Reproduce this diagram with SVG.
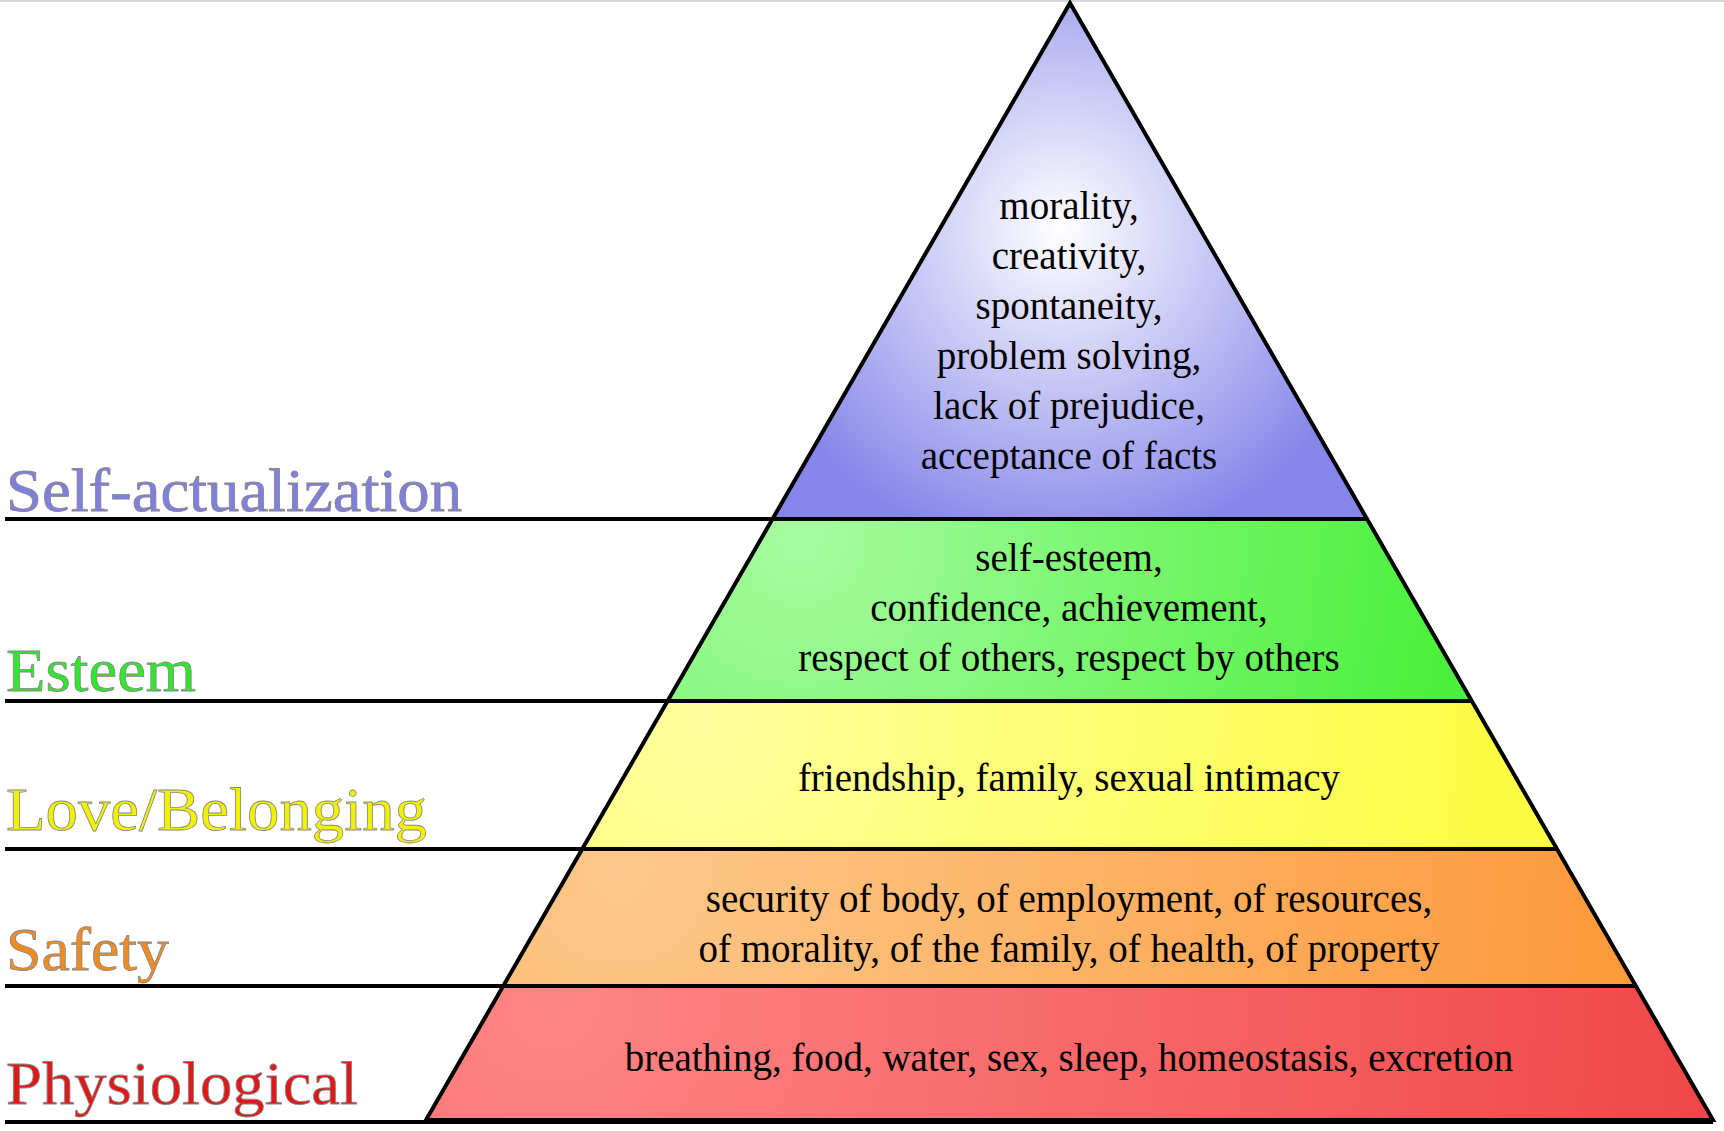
<svg xmlns="http://www.w3.org/2000/svg" width="1724" height="1131" viewBox="0 0 1724 1131">
<defs>
<radialGradient id="gB" cx="1060" cy="230" r="330" gradientUnits="userSpaceOnUse"><stop offset="0" stop-color="#ffffff"/><stop offset="1" stop-color="#8585ea"/></radialGradient>
<radialGradient id="gG" cx="800" cy="540" r="650" gradientUnits="userSpaceOnUse"><stop offset="0" stop-color="#a6fca0"/><stop offset="1" stop-color="#4cf03c"/></radialGradient>
<radialGradient id="gY" cx="700" cy="720" r="800" gradientUnits="userSpaceOnUse"><stop offset="0" stop-color="#ffff9e"/><stop offset="1" stop-color="#fcfc44"/></radialGradient>
<radialGradient id="gO" cx="620" cy="870" r="1000" gradientUnits="userSpaceOnUse"><stop offset="0" stop-color="#fdc88a"/><stop offset="1" stop-color="#fd9a3c"/></radialGradient>
<radialGradient id="gR" cx="550" cy="1000" r="1150" gradientUnits="userSpaceOnUse"><stop offset="0" stop-color="#fe8585"/><stop offset="1" stop-color="#f04848"/></radialGradient>
</defs>
<style>
.lvl{font-family:"Liberation Serif",serif;font-size:62px;stroke:#888;stroke-width:0.8}
.t{font-family:"Liberation Serif",serif;font-size:39px;fill:#000;text-anchor:middle}
.ln{stroke:#000;stroke-width:4;fill:none}
</style>
<line x1="0" y1="1" x2="1724" y2="1" stroke="#d8d8d8" stroke-width="2"/>
<g id="band-self">
<polygon points="1070,3 773,519 1367,519" fill="url(#gB)"/>
<text class="t" x="1069" y="219">morality,</text>
<text class="t" x="1069" y="269">creativity,</text>
<text class="t" x="1069" y="319">spontaneity,</text>
<text class="t" x="1069" y="369">problem solving,</text>
<text class="t" x="1069" y="419">lack of prejudice,</text>
<text class="t" x="1069" y="469">acceptance of facts</text>
</g>
<g id="band-esteem">
<polygon points="773,519 1367,519 1472,701 668,701" fill="url(#gG)"/>
<text class="t" x="1069" y="571">self-esteem,</text>
<text class="t" x="1069" y="621">confidence, achievement,</text>
<text class="t" x="1069" y="671">respect of others, respect by others</text>
</g>
<g id="band-love">
<polygon points="668,701 1472,701 1557,849 583,849" fill="url(#gY)"/>
<text class="t" x="1069" y="791">friendship, family, sexual intimacy</text>
</g>
<g id="band-safety">
<polygon points="583,849 1557,849 1636,986 504,986" fill="url(#gO)"/>
<text class="t" x="1069" y="912">security of body, of employment, of resources,</text>
<text class="t" x="1069" y="962">of morality, of the family, of health, of property</text>
</g>
<g id="band-phys">
<polygon points="504,986 1636,986 1713,1120 426,1120" fill="url(#gR)"/>
<text class="t" x="1069" y="1071">breathing, food, water, sex, sleep, homeostasis, excretion</text>
</g>
<g id="connectors">
<polygon class="ln" points="1070,3 426,1120 1713,1120"/>
<line class="ln" x1="5" y1="519" x2="1367" y2="519"/>
<line class="ln" x1="5" y1="701" x2="1472" y2="701"/>
<line class="ln" x1="5" y1="849" x2="1557" y2="849"/>
<line class="ln" x1="5" y1="986" x2="1636" y2="986"/>
<line class="ln" x1="5" y1="1122" x2="1713" y2="1122"/>
</g>
<g id="labels">
<text class="lvl" x="6" y="511" fill="#7f7fdf" textLength="456" lengthAdjust="spacingAndGlyphs">Self-actualization</text>
<text class="lvl" x="6" y="691" fill="#2ee82e" textLength="190" lengthAdjust="spacingAndGlyphs">Esteem</text>
<text class="lvl" x="6" y="830" fill="#f2f200" textLength="421" lengthAdjust="spacingAndGlyphs">Love/Belonging</text>
<text class="lvl" x="6" y="970" fill="#f28a22" textLength="163" lengthAdjust="spacingAndGlyphs">Safety</text>
<text class="lvl" x="6" y="1104" fill="#e01818" textLength="352" lengthAdjust="spacingAndGlyphs">Physiological</text>
</g>
</svg>
